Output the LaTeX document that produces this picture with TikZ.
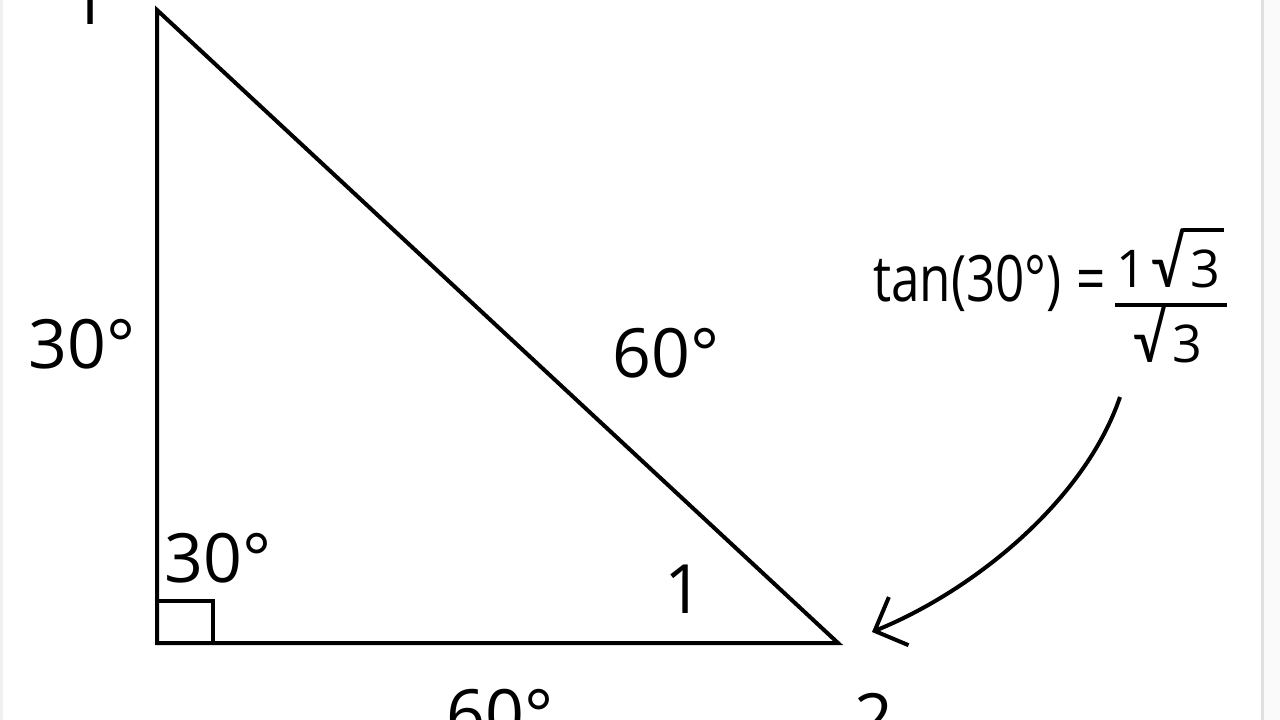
\documentclass[tikz,border=0pt]{standalone}
\usepackage{fontspec}
\setmainfont{Open Sans}
\newfontfamily\condfont[FakeStretch=0.80]{Open Sans}
\newfontfamily\rootfont{Lato}
\usetikzlibrary{arrows.meta}
\newbox\rootsignbox
\newbox\rootargbox
\newcommand\myroot[2]{\setbox\rootsignbox\hbox{\rootfont\char"221A}\setbox\rootargbox\hbox{#1}\scalebox{1.05}[1.32]{\copy\rootsignbox}\kern-0.04em\rlap{\rule[\dimexpr1.32\ht\rootsignbox-0.065em\relax]{\dimexpr\wd\rootargbox+#2\relax}{0.065em}}\kern0.14em\box\rootargbox}
\tikzset{
  edge/.style={line width=4pt, line join=miter},
  lbl/.style={inner sep=0pt, anchor=base, font=\fontsize{68}{72}\selectfont},
  frm/.style={inner sep=0pt, anchor=base west, font=\condfont\fontsize{64}{68}\selectfont},
  frc/.style={inner sep=0pt, anchor=base west, font=\fontsize{52}{56}\selectfont},
  curvearrow/.style={line width=4pt, -{Straight Barb[length=26pt, width=52pt, line width=4pt]}}
}
\begin{document}
\begin{tikzpicture}[x=1pt, y=-1pt]
\useasboundingbox (0,0) rectangle (1280,720);
\fill[white] (0,0) rectangle (1280,720);
\fill[black!2] (1263,0) rectangle (1280,720);
\draw[black!12, line width=3pt] (1262,0) -- (1262,720);
\draw[black!6, line width=3pt] (1.5,0) -- (1.5,720);
% triangle
\coordinate (A) at (157,10);
\coordinate (B) at (157,643);
\coordinate (C) at (838,643);
\draw[edge] (A) -- (B) -- (C) -- cycle;
\coordinate (sq1) at (157,601);
\coordinate (sq2) at (213,601);
\coordinate (sq3) at (213,643);
\draw[line width=3.2pt] (sq1) -- (sq2) -- (sq3);
% labels
\node[lbl] (one) at (89,24) {1};
\node[lbl] (aL) at (82,368) {30°};
\node[lbl] (aB) at (218,582) {30°};
\node[lbl] (aH) at (666,377) {60°};
\node[lbl] (oneB) at (684,613) {1};
\node[lbl] (aBot) at (500,738) {60°};
\node[lbl] (two) at (874,742) {2};
% formula
\node[frm] (tan) at (873,301) {tan(30°)\kern0.22em=};
\node[frc] (num) at (1116,287) {1\kern0.1em\myroot{3}{0.22em}};
\node[frc] (den) at (1133,362) {\myroot{3}{0.5em}};
\coordinate (fl) at (1115,305);
\coordinate (fr) at (1227,305);
\draw[line width=3.4pt] (fl) -- (fr);
% arrow
\coordinate (as) at (1120,397);
\coordinate (ae) at (872,632);
\draw[curvearrow] (as) .. controls (1085,500) and (975,590) .. (ae);
\end{tikzpicture}
\end{document}
